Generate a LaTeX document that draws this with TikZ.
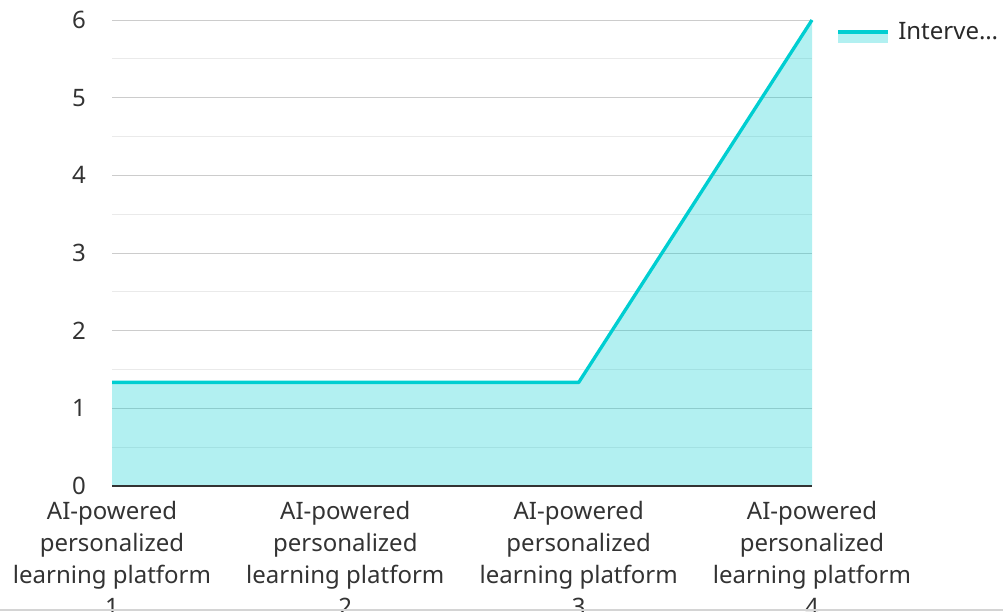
\documentclass[tikz,border=0pt]{standalone}
\usepackage{fontspec}
\setmainfont{Noto Sans}
\definecolor{serie}{RGB}{0,206,209}
\definecolor{majgrid}{RGB}{204,204,204}
\definecolor{mingrid}{RGB}{234,234,234}
\definecolor{framegray}{RGB}{212,212,212}
\definecolor{txt}{RGB}{51,51,51}
\begin{document}
\begin{tikzpicture}[x=0.75pt,y=-0.75pt,
    ticklab/.style={anchor=east,inner sep=0pt,font=\fontsize{18}{24}\selectfont,text=txt},
    catlab/.style={anchor=north,inner sep=0pt,align=center,font=\fontsize{18}{24}\selectfont,text=txt},
    major/.style={majgrid,line width=0.75pt},
    minor/.style={mingrid,line width=0.75pt},
    serieline/.style={serie,line width=2.5pt,line join=round},
    seriefill/.style={fill=serie,fill opacity=0.3}]

     \useasboundingbox (0,0) rectangle (1003,611);

     %grid
     \draw[minor] (112,447.2)--(812,447.2);
     \draw[minor] (112,369.5)--(812,369.5);
     \draw[minor] (112,291.8)--(812,291.8);
     \draw[minor] (112,214.2)--(812,214.2);
     \draw[minor] (112,136.5)--(812,136.5);
     \draw[minor] (112,58.8)--(812,58.8);
     \draw[major] (112,408.3)--(812,408.3);
     \draw[major] (112,330.7)--(812,330.7);
     \draw[major] (112,253)--(812,253);
     \draw[major] (112,175.3)--(812,175.3);
     \draw[major] (112,97.7)--(812,97.7);
     \draw[major] (112,20)--(812,20);

     %y ticks
     \node[ticklab] (y0) at (86,486) {0};
     \node[ticklab] (y1) at (86,408.3) {1};
     \node[ticklab] (y2) at (86,330.7) {2};
     \node[ticklab] (y3) at (86,253) {3};
     \node[ticklab] (y4) at (86,175.3) {4};
     \node[ticklab] (y5) at (86,97.7) {5};
     \node[ticklab] (y6) at (86,20) {6};

     %series
     \coordinate (p1) at (112,382.4);
     \coordinate (p2) at (345.3,382.4);
     \coordinate (p3) at (578.7,382.4);
     \coordinate (p4) at (812,20);
     \coordinate (b1) at (112,486);
     \coordinate (b4) at (812,486);
     \fill[seriefill] (p1)--(p2)--(p3)--(p4)--(b4)--(b1)--cycle;
     \draw[serieline] (p1)--(p2)--(p3)--(p4);

     %x axis
     \draw[txt,line width=1.5pt] (b1)--(b4);

     %categories
     \node[catlab] (c1) at (112,501) {AI-powered\\personalized\\learning platform\\1};
     \node[catlab] (c2) at (345.3,501) {AI-powered\\personalized\\learning platform\\2};
     \node[catlab] (c3) at (578.7,501) {AI-powered\\personalized\\learning platform\\3};
     \node[catlab] (c4) at (812,501) {AI-powered\\personalized\\learning platform\\4};

     %legend
     \fill[seriefill] (838,33) rectangle (888,43);
     \coordinate (l1) at (838,31.5);
     \coordinate (l2) at (888,31.5);
     \draw[serie,line width=3pt] (l1)--(l2);
     \node[anchor=base west,inner sep=0pt,font=\fontsize{18}{24}\selectfont,text=txt!80!black] (leg) at (898,39.5) {Interve…};

     %bottom rule
     \draw[framegray,line width=1.5pt] (0,609.5)--(1003,609.5);

\end{tikzpicture}
\end{document}
